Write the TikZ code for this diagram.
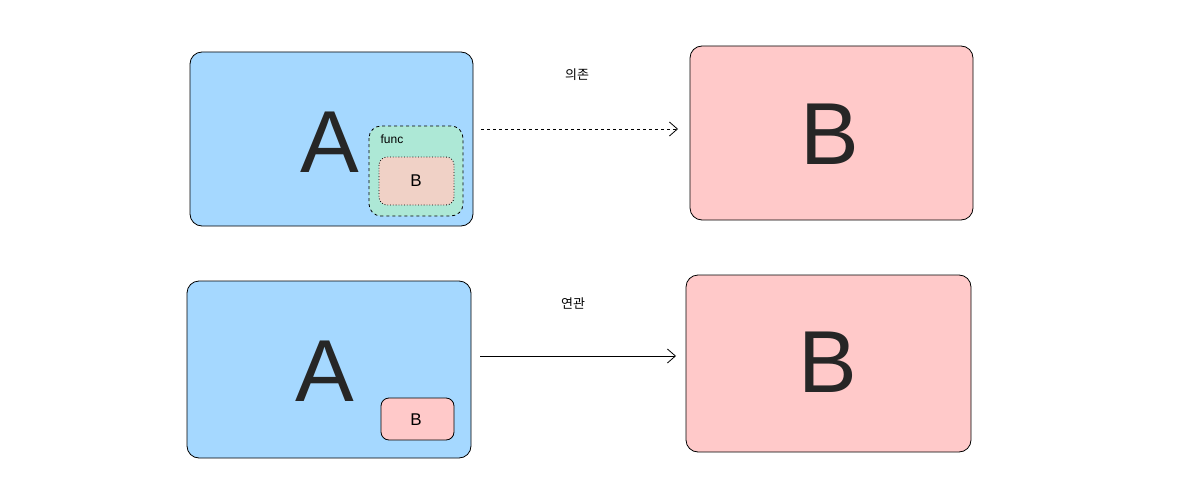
\documentclass[tikz,border=0pt]{standalone}
\usepackage{fontspec}
\setmainfont{Liberation Sans}
\newfontfamily\kofont{Noto Sans CJK KR}
\usetikzlibrary{arrows.meta,patterns}
\definecolor{boxblue}{HTML}{A5D8FF}
\definecolor{boxpink}{HTML}{FFC9C9}
\definecolor{hatchgreen}{HTML}{B2F2BB}
\tikzset{
  box/.style={draw, thick, rounded corners=12pt},
  big/.style={font=\fontsize{88}{88}\selectfont, text=black!85},
  rel/.style={thick, -{Straight Barb[length=8pt,width=14pt]}},
  lbl/.style={font=\kofont\fontsize{13}{13}\selectfont}
}
\begin{document}
\begin{tikzpicture}[x=1pt,y=-1pt]
\useasboundingbox (0,0) rectangle (1200,503);
% dependency row
\draw[box, fill=boxblue] (190,52) rectangle (473,226);
\node[big] (a1) at (330,142) {A};
\draw[thick, dashed, rounded corners=12pt, fill=hatchgreen!60!boxblue] (369,126) rectangle (463,216);
\node[font=\fontsize{12}{12}\selectfont] (func) at (392,139) {func};
\draw[thick, dotted, rounded corners=8pt, fill=boxpink!80!hatchgreen] (379,157) rectangle (454,205);
\node[font=\fontsize{17}{17}\selectfont] (b0) at (416,181) {B};
\draw[box, fill=boxpink] (690,46) rectangle (973,220);
\node[big] (b1) at (830,134) {B};
\coordinate (d1) at (481,129);
\coordinate (d2) at (678,129);
\draw[rel, dashed] (d1) -- (d2);
\node[lbl] (dep) at (577,75) {의존};
% association row
\draw[box, fill=boxblue] (187,281) rectangle (471,458);
\node[big] (a2) at (325,371) {A};
\draw[thick, rounded corners=8pt, fill=boxpink] (381,398) rectangle (454,440);
\node[font=\fontsize{17}{17}\selectfont] (bs) at (416,420) {B};
\draw[box, fill=boxpink] (686,275) rectangle (971,452);
\node[big] (b2) at (828,362) {B};
\coordinate (s1) at (480,356);
\coordinate (s2) at (676,356);
\draw[rel] (s1) -- (s2);
\node[lbl] (asc) at (573,303) {연관};
\end{tikzpicture}
\end{document}
